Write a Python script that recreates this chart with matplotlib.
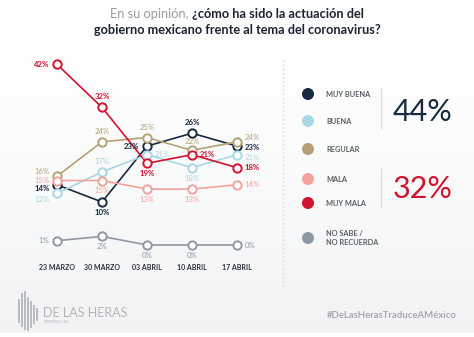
import numpy as np
import matplotlib
matplotlib.use("Agg")
import matplotlib.pyplot as plt
from matplotlib.patches import Ellipse

# ---------------- data ----------------
dates = ["23 MARZO", "30 MARZO", "03 ABRIL", "10 ABRIL", "17 ABRIL"]
series_names = ["MUY BUENA", "BUENA", "REGULAR", "MALA", "MUY MALA", "NO SABE /\nNO RECUERDA"]
muy_buena = [14, 10, 23, 26, 23]
buena = [12, 17, 21, 18, 21]
regular = [16, 24, 25, 22, 24]
mala = [15, 15, 13, 13, 14]
muy_mala = [42, 32, 19, 21, 18]
no_sabe = [1, 2, 0, 0, 0]
summary_positive = "44%"
summary_negative = "32%"

colors = ["#172a40", "#a9d7e4", "#b6a176", "#f2a29b", "#d1132f", "#8e99a5"]
series = [muy_buena, buena, regular, mala, muy_mala, no_sabe]
# label placement per point: (side, extra vertical shift in points)
placements = [
    [("l", -3), ("b", 0), ("l", 0), ("a", 0), ("r", -1)],
    [("l", -4.5), ("a", 0), ("r", 0), ("b", 0), ("r", -2)],
    [("l", 3.5), ("a", 0), ("a", 0), ("a", -1), ("r", 3)],
    [("l", 0), ("b", 0), ("b", 0), ("b", 0), ("r", 0)],
    [("l", 0), ("a", 0), ("b", 0), ("r", 0), ("r", 0)],
    [("l", 0), ("b", 0), ("b", 0), ("b", 0), ("r", 0)],
]

W, H = 474, 337
fig = plt.figure(figsize=(W / 100, H / 100), dpi=100)

# background gradient
bg = fig.add_axes([0, 0, 1, 1], zorder=-10)
grad = np.linspace(0, 1, 256)[:, None]
top = np.array([1.0, 1.0, 1.0])
bot = np.array([0.945, 0.950, 0.955])
g = grad ** 1.5
img = top[None, None, :] * (1 - g[..., None]) + bot[None, None, :] * g[..., None]
img = np.repeat(img, 2, axis=1)
bg.imshow(img, aspect="auto", extent=[0, 1, 0, 1], origin="upper")
bg.axvspan(0, 1, ymin=0, ymax=4 / H, color="white")
bg.set_xlim(0, 1); bg.set_ylim(0, 1)
bg.axis("off")

def px(x, y):
    return x / W, 1 - y / H

font = "Lato"

# title
r = fig.canvas.get_renderer()
tsize = 9.2
t1a = fig.text(0, 0, "En su opinión, ", fontsize=tsize, color="#9a9ea3", family=font)
t1b = fig.text(0, 0, "¿cómo ha sido la actuación del", fontsize=tsize, color="#1d2533",
               family=font, weight="bold")
wa = t1a.get_window_extent(r).width
wb = t1b.get_window_extent(r).width
x0 = 237 - (wa + wb) / 2
t1a.set_position(px(x0, 14)); t1a.set_va("center")
t1b.set_position(px(x0 + wa, 14)); t1b.set_va("center")
fig.text(*px(237, 30), "gobierno mexicano frente al tema del coronavirus?", fontsize=tsize,
         color="#1d2533", family=font, weight="bold", ha="center", va="center")

# main axes: x categories 0..4 -> px 57..237 ; y linear, 0 -> 245 px
ppx = 45.0
ppy = 4.3
y0px = 245
ax_left, ax_right = 30, 264
ax_top, ax_bot = 55, 278
xmin = (ax_left - 57) / ppx
xmax = xmin + (ax_right - ax_left) / ppx
ymax = (y0px - ax_top) / ppy
ymin = -(ax_bot - y0px) / ppy
ax = fig.add_axes([ax_left / W, 1 - ax_bot / H, (ax_right - ax_left) / W, (ax_bot - ax_top) / H])
ax.set_xlim(xmin, xmax)
ax.set_ylim(ymin, ymax)
ax.axis("off")
ax.patch.set_alpha(0)

xs = np.arange(len(dates))
for i, (vals, c, pl) in enumerate(zip(series, colors, placements)):
    ax.plot(xs, vals, color=c, lw=1.2, zorder=2 + i * 0.1)
    ax.scatter(xs, vals, s=36, facecolor="white", edgecolor=c, linewidth=1.4, zorder=5 + i * 0.1)
    bold = i in (0, 4)
    for x, v, (p, dy) in zip(xs, vals, pl):
        txt = f"{v}%"
        kw = dict(fontsize=5.6, color=c, family=font, weight="bold" if bold else "normal",
                  zorder=8)
        if p == "l":
            ax.annotate(txt, (x, v), xytext=(-5.5, dy), textcoords="offset points",
                        ha="right", va="center", **kw)
        elif p == "r":
            ax.annotate(txt, (x, v), xytext=(5.5, dy), textcoords="offset points",
                        ha="left", va="center", **kw)
        elif p == "a":
            ax.annotate(txt, (x, v), xytext=(0, 5 + dy), textcoords="offset points",
                        ha="center", va="bottom", **kw)
        else:
            ax.annotate(txt, (x, v), xytext=(0, -5 + dy), textcoords="offset points",
                        ha="center", va="top", **kw)

for x, d in zip(xs, dates):
    ax.text(x, -(267 - y0px) / ppy, d, ha="center", va="center", fontsize=5.0,
            color="#2a3140", family=font, weight="bold")

# separator dotted line
fig.add_artist(plt.Line2D([283 / W, 283 / W], [1 - 60 / H, 1 - 287 / H], color="#d5d8dc",
                          lw=1, ls=(0, (1, 2))))

# legend
leg_y = [94, 121, 149, 179, 203, 238]
for name, c, y in zip(series_names, colors, leg_y):
    fig.add_artist(Ellipse(px(308, y), width=12 / W, height=12 / H, transform=fig.transFigure,
                           facecolor=c, edgecolor="none"))
    fig.text(*px(326, y), name, fontsize=5.3, color="#5b6068", family=font, weight="bold",
             va="center", ha="left", linespacing=1.4)

fig.add_artist(plt.Line2D([381 / W, 381 / W], [1 - 88 / H, 1 - 128 / H], color="#dcdfe2", lw=1))
fig.add_artist(plt.Line2D([381 / W, 381 / W], [1 - 168 / H, 1 - 207 / H], color="#dcdfe2", lw=1))
fig.text(*px(423, 112), summary_positive, fontsize=22, color="#172a40", family=font,
         ha="center", va="center")
fig.text(*px(423, 189), summary_negative, fontsize=22, color="#d1132f", family=font,
         ha="center", va="center")

# footer
logo_c = "#b3b7bc"
for k, (x, y0, y1) in enumerate([(19, 300, 322), (22, 294, 326), (25, 292, 329), (28, 298, 330),
                                  (31, 302, 327), (34, 306, 323), (37, 309, 320)]):
    fig.add_artist(plt.Line2D([x / W, x / W], [1 - y0 / H, 1 - y1 / H], color=logo_c, lw=1.3))
fig.text(*px(43, 313), "DE LAS HERAS", fontsize=9, color=logo_c, family=font,
         va="center", ha="left")
fig.text(*px(44, 322), "DEMOPOLLING", fontsize=2.5, color=logo_c, family=font,
         va="center", ha="left")
fig.text(*px(457, 315), "#DeLasHerasTraduceAMéxico", fontsize=6.8, color="#a6aab0",
         family=font, weight="bold", va="center", ha="right")

fig.savefig("out.png", dpi=100)
